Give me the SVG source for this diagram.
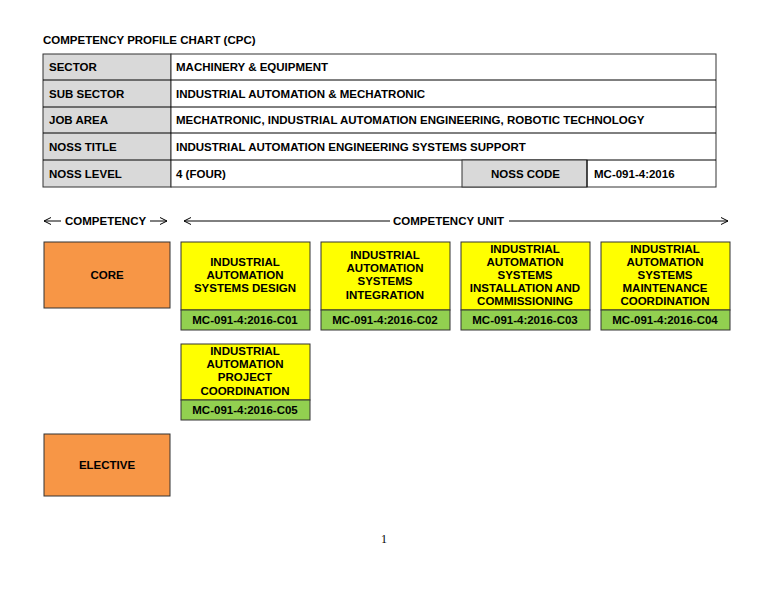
<svg xmlns="http://www.w3.org/2000/svg" width="768" height="594" viewBox="0 0 768 594">
<style>
text{font-family:"Liberation Sans",Arial,sans-serif;font-weight:bold;font-size:11.5px;fill:#000}
.c{text-anchor:middle}
.l{fill:#d9d9d9;stroke:#333;stroke-width:1}
.w{fill:#fff;stroke:#333;stroke-width:1}
.y{fill:#ffff00;stroke:#333;stroke-width:1}
.g{fill:#92d050;stroke:#333;stroke-width:1}
.o{fill:#f79646;stroke:#333;stroke-width:1}
.a{stroke:#000;stroke-width:1;fill:none}
</style>
<defs><marker id="ar" markerWidth="8" markerHeight="8" refX="7" refY="4" orient="auto-start-reverse" markerUnits="userSpaceOnUse"><path d="M0,0.5 L7,4 L0,7.5" fill="none" stroke="#000" stroke-width="1"/></marker></defs>
<rect width="768" height="594" fill="#fff"/>
<text x="43" y="44">COMPETENCY PROFILE CHART (CPC)</text>
<g id="table">
<rect class="l" x="43" y="54" width="128" height="133"/>
<rect class="w" x="171" y="54" width="545" height="133"/>
<line class="a" x1="43" y1="80" x2="716" y2="80" stroke="#333"/>
<line class="a" x1="43" y1="107" x2="716" y2="107"/>
<line class="a" x1="43" y1="133" x2="716" y2="133"/>
<line class="a" x1="43" y1="160" x2="716" y2="160"/>
<rect class="l" x="462" y="160" width="125" height="27"/>
<line class="a" x1="587" y1="160" x2="587" y2="187"/>
<text x="49" y="71">SECTOR</text><text x="176" y="71">MACHINERY &amp; EQUIPMENT</text>
<text x="49" y="98">SUB SECTOR</text><text x="176" y="98">INDUSTRIAL AUTOMATION &amp; MECHATRONIC</text>
<text x="49" y="124">JOB AREA</text><text x="176" y="124">MECHATRONIC, INDUSTRIAL AUTOMATION ENGINEERING, ROBOTIC TECHNOLOGY</text>
<text x="49" y="151">NOSS TITLE</text><text x="176" y="151">INDUSTRIAL AUTOMATION ENGINEERING SYSTEMS SUPPORT</text>
<text x="49" y="178">NOSS LEVEL</text><text x="176" y="178">4 (FOUR)</text>
<text x="491" y="178">NOSS CODE</text><text x="594" y="178">MC-091-4:2016</text>
</g>
<g id="connectors">
<line class="a" x1="44" y1="221" x2="61" y2="221" marker-start="url(#ar)"/>
<line class="a" x1="150" y1="221" x2="167" y2="221" marker-end="url(#ar)"/>
<line class="a" x1="184" y1="221" x2="390" y2="221" marker-start="url(#ar)"/>
<line class="a" x1="509" y1="221" x2="728" y2="221" marker-end="url(#ar)"/>
</g>
<text x="65" y="225">COMPETENCY</text>
<text x="393" y="225">COMPETENCY UNIT</text>
<g id="core"><rect class="o" x="44" y="242" width="126" height="66"/><text class="c" x="107" y="279">CORE</text></g>
<g id="elective"><rect class="o" x="44" y="434" width="126" height="62"/><text class="c" x="107" y="469">ELECTIVE</text></g>
<g id="c01"><rect class="y" x="181" y="242" width="129" height="68"/><rect class="g" x="181" y="310" width="129" height="20"/>
<text class="c" x="245" y="266">INDUSTRIAL</text><text class="c" x="245" y="279">AUTOMATION</text><text class="c" x="245" y="292">SYSTEMS DESIGN</text><text class="c" x="245" y="324">MC-091-4:2016-C01</text></g>
<g id="c02"><rect class="y" x="321" y="242" width="129" height="68"/><rect class="g" x="321" y="310" width="129" height="20"/>
<text class="c" x="385" y="259">INDUSTRIAL</text><text class="c" x="385" y="272">AUTOMATION</text><text class="c" x="385" y="285">SYSTEMS</text><text class="c" x="385" y="299">INTEGRATION</text><text class="c" x="385" y="324">MC-091-4:2016-C02</text></g>
<g id="c03"><rect class="y" x="461" y="242" width="129" height="68"/><rect class="g" x="461" y="310" width="129" height="20"/>
<text class="c" x="525" y="253">INDUSTRIAL</text><text class="c" x="525" y="266">AUTOMATION</text><text class="c" x="525" y="279">SYSTEMS</text><text class="c" x="525" y="292">INSTALLATION AND</text><text class="c" x="525" y="305">COMMISSIONING</text><text class="c" x="525" y="324">MC-091-4:2016-C03</text></g>
<g id="c04"><rect class="y" x="601" y="242" width="129" height="68"/><rect class="g" x="601" y="310" width="129" height="20"/>
<text class="c" x="665" y="253">INDUSTRIAL</text><text class="c" x="665" y="266">AUTOMATION</text><text class="c" x="665" y="279">SYSTEMS</text><text class="c" x="665" y="292">MAINTENANCE</text><text class="c" x="665" y="305">COORDINATION</text><text class="c" x="665" y="324">MC-091-4:2016-C04</text></g>
<g id="c05"><rect class="y" x="181" y="344" width="129" height="56"/><rect class="g" x="181" y="400" width="129" height="20"/>
<text class="c" x="245" y="355">INDUSTRIAL</text><text class="c" x="245" y="368">AUTOMATION</text><text class="c" x="245" y="381">PROJECT</text><text class="c" x="245" y="395">COORDINATION</text><text class="c" x="245" y="414">MC-091-4:2016-C05</text></g>
<text x="384" y="543" style="font-family:'Liberation Serif',serif;font-weight:normal;font-size:12px" text-anchor="middle">1</text>
</svg>
